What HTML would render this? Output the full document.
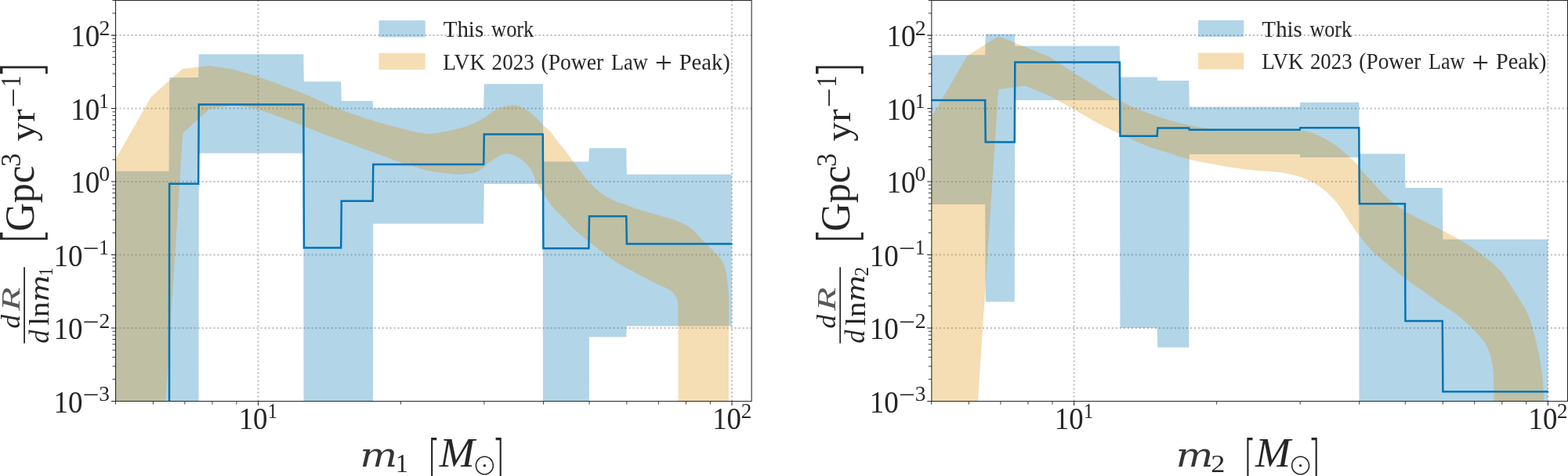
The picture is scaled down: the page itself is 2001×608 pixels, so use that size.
<!DOCTYPE html>
<html lang="en"><head><meta charset="utf-8"><title>Merger rate vs mass</title>
<style>html,body{margin:0;padding:0;background:#fff;overflow:hidden}svg{display:block}text{font-family:"Liberation Serif",serif;fill:#262626;white-space:pre}.it{font-style:italic}.el{font-family:"DejaVu Sans",sans-serif;font-weight:200}.nl{font-family:"Noto Sans CJK SC","DejaVu Sans",sans-serif;font-weight:300}.nr{font-family:"Noto Sans CJK SC","DejaVu Sans",sans-serif}.ds{font-family:"DejaVu Serif",serif}</style>
</head><body>
<svg width="2001" height="608" viewBox="0 0 2001 608">
<rect width="2001" height="608" fill="#fff"/>
<g id="panel1">
<clipPath id="clip1"><rect x="147.55" y="0.5" width="811.55" height="512"/></clipPath>
<path d="M329.5 512.5 V0.5 M934 512.5 V0.5 M147.55 419.02 H959.1 M147.55 325.54 H959.1 M147.55 232.06 H959.1 M147.55 138.58 H959.1 M147.55 45.1 H959.1" fill="none" stroke="#bcbcbc" stroke-width="2" stroke-dasharray="2 3"/>
<g clip-path="url(#clip1)">
<path fill="#0173B2" fill-opacity="0.3" d="M146 218.8 L215.57 218.8 L216.17 99 L253.15 99 L253.75 69.2 L387.3 69.2 L387.9 104.2 L435.18 104.2 L435.78 129.1 L475.67 129.1 L476.27 138.3 L617.22 138.3 L617.82 107.3 L692.77 107.3 L693.37 206.5 L751.37 206.5 L751.97 189.3 L799.25 189.3 L799.85 222.7 L933.7 222.7 L933.7 416.4 L799.85 416.4 L799.25 430.6 L751.97 430.6 L751.37 1200 L693.37 1200 L692.77 235.1 L617.82 235.1 L617.22 285.7 L476.27 285.7 L475.67 1200 L435.78 1200 L435.18 1200 L387.9 1200 L387.3 195.7 L253.75 195.7 L253.15 1200 L216.17 1200 L215.57 1200 L146 1200 Z"/>
<path fill="#DE8F05" fill-opacity="0.3" d="M145.4 207 L192.8 123.7 L232.8 87.9 L267.6 84 L298.3 88.8 L325.8 96.8 C334.1 99.77 342.43 102.64 350.7 105.7 C363.07 110.28 375.5 114.7 387.7 119.7 C401.77 125.47 415.33 132.5 429.5 138 C445.2 144.1 461.22 149.49 477.3 154.5 C491.38 158.89 505.74 162.41 520 166.2 C523.31 167.08 526.63 167.92 530 168.5 C535.93 169.52 541.95 171.35 547.9 171 C558.52 170.38 569.21 167.89 579.7 165.6 C586.45 164.13 593.19 162.23 599.6 159.7 C605.79 157.26 611.78 154.11 617.5 150.7 C622.38 147.78 626.46 143.46 631.4 140.7 C635.1 138.63 639.29 137.27 643.4 136.2 C647.59 135.11 652.08 133.92 656.3 134.2 C660.04 134.45 663.88 136.08 667.3 137.8 C671.52 139.92 675.59 142.63 679.2 145.7 C684.19 149.93 688.4 155.1 693.1 159.7 C696.67 163.2 700.71 166.27 704 170 C706.68 173.04 708.51 176.79 711 180 C713.81 183.62 717.09 186.88 719.9 190.5 C724.02 195.81 727.76 201.42 731.8 206.8 C737.06 213.82 742.04 221.11 747.8 227.7 C753.34 234.04 759.1 240.45 765.7 245.6 C771.7 250.28 778.71 253.9 785.6 257.2 C790.14 259.37 795.24 260.28 800 262 C803.84 263.38 807.55 265.15 811.4 266.5 C814.18 267.48 817.06 268.17 819.9 269 C826.43 270.91 832.98 272.75 839.5 274.7 C847.48 277.09 855.7 278.93 863.4 282 C869.73 284.53 876.17 287.48 881.6 291.5 C886.87 295.41 890.82 301.07 895.5 305.8 C900.12 310.47 904.94 314.97 909.5 319.7 C912.9 323.23 916.48 326.7 919.4 330.6 C921.44 333.33 923.28 336.39 924.4 339.6 C925.95 344.03 926.66 348.82 927.4 353.5 C928.33 359.42 928.84 365.42 929.4 371.4 C929.7 374.59 929.8 377.8 930 381 L930 560 L865.4 560 C865.37 503.67 865.71 447.31 865.3 391 C865.28 387.78 864.91 384.46 864.1 381.4 C863.71 379.93 862.6 378.66 861.7 377.4 C860.47 375.66 859.35 373.7 857.7 372.4 C855.18 370.4 852.12 368.95 849.2 367.5 C846.16 365.99 842.86 365 839.8 363.5 C832.99 360.16 826.32 356.53 819.6 353 C813.05 349.56 806.44 346.22 800 342.6 C794.41 339.46 788.75 336.37 783.5 332.7 C772.62 325.1 761.98 317.08 751.6 308.8 C744.08 302.81 736.78 296.49 729.8 289.9 C726.25 286.55 723.4 282.5 720 279 C717.44 276.37 714.46 274.14 711.9 271.5 C708.83 268.34 705.76 265.11 703.1 261.6 C699.49 256.84 696.33 251.73 693.1 246.7 C690.36 242.43 687.52 238.2 685.2 233.7 C682.22 227.9 680.5 221.36 677.2 215.8 C675.2 212.43 672.25 209.52 669.3 206.9 C666.28 204.22 662.92 201.65 659.3 199.9 C655.62 198.12 651.39 196.48 647.4 196.3 C644.09 196.15 640.46 197.41 637.4 198.9 C632.49 201.28 627.95 204.65 623.5 207.9 C619.32 210.95 615.91 215.24 611.5 217.8 C607.94 219.87 603.69 221.17 599.6 221.8 C593.76 222.7 587.64 222.76 581.7 222.4 C571.08 221.76 560.31 220.91 549.9 218.8 C539.75 216.74 529.99 212.76 520 209.9 C518.36 209.43 516.61 209.38 515 208.8 C489.77 199.74 464.67 190.26 439.5 181 C429.53 177.33 419.51 173.81 409.6 170 C402.25 167.17 395.04 163.97 387.7 161.1 C375.41 156.3 363.08 151.56 350.7 147 C342.45 143.96 334.1 141.2 325.8 138.3 L298.3 134.5 L267.6 139 L233.3 170 L208.3 560 L145 560 Z"/>
</g>
<g clip-path="url(#clip1)">
<path fill="none" stroke="#0173B2" stroke-width="2.5" stroke-linejoin="miter" stroke-miterlimit="10" d="M215.57 1200 L216.17 234.7 L253.15 234.7 L253.75 133.6 L387.3 133.6 L387.9 316.4 L435.18 316.4 L435.78 256.8 L475.67 256.8 L476.27 210 L617.22 210 L617.82 171.6 L692.77 171.6 L693.37 317.2 L751.37 317.2 L751.97 276.3 L799.25 276.3 L799.85 311.6 L934.4 311.6"/>
</g>
<path d="M329.5 512.5 v5.6 M934 512.5 v5.6 M147.55 512.5 h-5.6 M147.55 419.02 h-5.6 M147.55 325.54 h-5.6 M147.55 232.06 h-5.6 M147.55 138.58 h-5.6 M147.55 45.1 h-5.6" fill="none" stroke="#262626" stroke-width="1.05"/>
<path d="M147.53 512.5 v4.1 M195.39 512.5 v4.1 M235.86 512.5 v4.1 M270.92 512.5 v4.1 M301.84 512.5 v4.1 M511.47 512.5 v4.1 M617.92 512.5 v4.1 M693.45 512.5 v4.1 M752.03 512.5 v4.1 M799.89 512.5 v4.1 M840.36 512.5 v4.1 M875.42 512.5 v4.1 M906.34 512.5 v4.1 M147.55 484.36 h-4.1 M147.55 467.9 h-4.1 M147.55 456.22 h-4.1 M147.55 447.16 h-4.1 M147.55 439.76 h-4.1 M147.55 433.5 h-4.1 M147.55 428.08 h-4.1 M147.55 423.3 h-4.1 M147.55 390.88 h-4.1 M147.55 374.42 h-4.1 M147.55 362.74 h-4.1 M147.55 353.68 h-4.1 M147.55 346.28 h-4.1 M147.55 340.02 h-4.1 M147.55 334.6 h-4.1 M147.55 329.82 h-4.1 M147.55 297.4 h-4.1 M147.55 280.94 h-4.1 M147.55 269.26 h-4.1 M147.55 260.2 h-4.1 M147.55 252.8 h-4.1 M147.55 246.54 h-4.1 M147.55 241.12 h-4.1 M147.55 236.34 h-4.1 M147.55 203.92 h-4.1 M147.55 187.46 h-4.1 M147.55 175.78 h-4.1 M147.55 166.72 h-4.1 M147.55 159.32 h-4.1 M147.55 153.06 h-4.1 M147.55 147.64 h-4.1 M147.55 142.86 h-4.1 M147.55 110.44 h-4.1 M147.55 93.98 h-4.1 M147.55 82.3 h-4.1 M147.55 73.24 h-4.1 M147.55 65.84 h-4.1 M147.55 59.58 h-4.1 M147.55 54.16 h-4.1 M147.55 49.38 h-4.1 M147.55 16.96 h-4.1 M147.55 0.5 h-4.1" fill="none" stroke="#262626" stroke-width="0.9"/>
<path d="M147.55 0.5 H959.1 V512.5 H147.55 Z" fill="none" stroke="#262626" stroke-width="1.05" stroke-linejoin="miter"/>
<text><tspan x="68.41" y="526.59" font-size="40.59" textLength="37.03" lengthAdjust="spacingAndGlyphs">10</tspan><tspan x="105.39" y="515.24" font-size="32" textLength="20.98" lengthAdjust="spacingAndGlyphs">−</tspan><tspan x="126.35" y="511.72" font-size="27.51" textLength="13.7" lengthAdjust="spacingAndGlyphs">3</tspan></text>
<text><tspan x="68.41" y="433.11" font-size="40.59" textLength="37.03" lengthAdjust="spacingAndGlyphs">10</tspan><tspan x="105.39" y="421.76" font-size="32" textLength="20.98" lengthAdjust="spacingAndGlyphs">−</tspan><tspan x="126.5" y="418.52" font-size="27.92" textLength="13.88" lengthAdjust="spacingAndGlyphs">2</tspan></text>
<text><tspan x="68.41" y="339.63" font-size="40.59" textLength="37.03" lengthAdjust="spacingAndGlyphs">10</tspan><tspan x="105.39" y="328.28" font-size="32" textLength="20.98" lengthAdjust="spacingAndGlyphs">−</tspan><tspan x="126.34" y="325.04" font-size="28.03" textLength="12.62" lengthAdjust="spacingAndGlyphs">1</tspan></text>
<text><tspan x="90.31" y="246.15" font-size="40.59" textLength="37.03" lengthAdjust="spacingAndGlyphs">10</tspan><tspan x="126.21" y="231.29" font-size="27.41" textLength="13.88" lengthAdjust="spacingAndGlyphs">0</tspan></text>
<text><tspan x="90.31" y="152.67" font-size="40.59" textLength="37.03" lengthAdjust="spacingAndGlyphs">10</tspan><tspan x="126.34" y="138.08" font-size="28.03" textLength="12.62" lengthAdjust="spacingAndGlyphs">1</tspan></text>
<text><tspan x="90.31" y="59.19" font-size="40.59" textLength="37.03" lengthAdjust="spacingAndGlyphs">10</tspan><tspan x="126.5" y="44.6" font-size="27.92" textLength="13.88" lengthAdjust="spacingAndGlyphs">2</tspan></text>
<text><tspan x="304.68" y="548.19" font-size="40.59" textLength="36.8" lengthAdjust="spacingAndGlyphs">10</tspan><tspan x="341.87" y="534.1" font-size="27.73" textLength="12.2" lengthAdjust="spacingAndGlyphs">1</tspan></text>
<text><tspan x="909.18" y="548.19" font-size="40.59" textLength="36.8" lengthAdjust="spacingAndGlyphs">10</tspan><tspan x="945.68" y="533.9" font-size="27.92" textLength="13.5" lengthAdjust="spacingAndGlyphs">2</tspan></text>
<rect x="483.5" y="26.1" width="59.2" height="21.3" fill="#0173B2" fill-opacity="0.3"/>
<rect x="483.5" y="67.8" width="59.2" height="21.1" fill="#DE8F05" fill-opacity="0.3"/>
<text><tspan x="565.69" y="47.1" font-size="29.6" textLength="51.5" lengthAdjust="spacingAndGlyphs">This</tspan> <tspan x="627.1" y="47.1" font-size="29.6" textLength="54.21" lengthAdjust="spacingAndGlyphs">work</tspan></text>
<text><tspan x="565.28" y="88.6" font-size="29.6" textLength="53.96" lengthAdjust="spacingAndGlyphs">LVK</tspan> <tspan x="627.58" y="88.6" font-size="29.6" textLength="54.2" lengthAdjust="spacingAndGlyphs">2023</tspan> <tspan x="690.56" y="88.6" font-size="29.6" textLength="79.67" lengthAdjust="spacingAndGlyphs">(Power</tspan> <tspan x="780.01" y="88.6" font-size="29.6" textLength="46.81" lengthAdjust="spacingAndGlyphs">Law</tspan> <tspan x="835.74" y="93.13" font-size="38.28" textLength="22.07" lengthAdjust="spacingAndGlyphs">+</tspan> <tspan x="866.74" y="88.6" font-size="29.6" textLength="65.05" lengthAdjust="spacingAndGlyphs">Peak)</tspan></text>
<text><tspan x="459.35" y="595.9" font-size="43" class="it ds" textLength="48.03" lengthAdjust="spacingAndGlyphs" fill-opacity="0.93">m</tspan><tspan x="504.92" y="603.2" font-size="34.7" textLength="15.89" lengthAdjust="spacingAndGlyphs">1</tspan> <tspan x="545.36" y="608.57" font-size="66.67" class="el" textLength="16.77" lengthAdjust="spacingAndGlyphs">[</tspan><tspan x="560.88" y="595.6" font-size="53.28" class="it" textLength="45.02" lengthAdjust="spacingAndGlyphs">M</tspan><tspan x="602.57" y="605.83" font-size="31.01" class="nl" textLength="31.76" lengthAdjust="spacingAndGlyphs">⊙</tspan><tspan x="627.66" y="608.57" font-size="66.67" class="el" textLength="16.77" lengthAdjust="spacingAndGlyphs">]</tspan></text>
</g>
<g id="panel2">
<clipPath id="clip2"><rect x="1188.85" y="0.5" width="811.65" height="512"/></clipPath>
<path d="M1370.6 512.5 V0.5 M1975.4 512.5 V0.5 M1188.85 419.02 H2000.5 M1188.85 325.54 H2000.5 M1188.85 232.06 H2000.5 M1188.85 138.58 H2000.5 M1188.85 45.1 H2000.5" fill="none" stroke="#bcbcbc" stroke-width="2" stroke-dasharray="2 3"/>
<g clip-path="url(#clip2)">
<path fill="#0173B2" fill-opacity="0.3" d="M1187 70.2 L1257.13 70.2 L1257.73 43.5 L1294.71 43.5 L1295.31 58.7 L1428.85 58.7 L1429.45 98.4 L1476.72 98.4 L1477.32 103.1 L1517.2 103.1 L1517.8 136.4 L1658.74 136.4 L1659.34 130.7 L1734.29 130.7 L1734.89 196.6 L1792.88 196.6 L1793.48 239.9 L1840.76 239.9 L1841.36 305.8 L1975.2 305.8 L1975.2 1200 L1841.36 1200 L1840.76 1200 L1793.48 1200 L1792.88 1200 L1734.89 1200 L1734.29 201.1 L1659.34 201.1 L1658.74 197 L1517.8 197 L1517.2 443.7 L1477.32 443.7 L1476.72 419 L1429.45 419 L1428.85 128 L1295.31 128 L1294.71 385.6 L1257.73 385.6 L1257.13 261.1 L1187 261.1 Z"/>
<path fill="#DE8F05" fill-opacity="0.3" d="M1186.5 153.5 L1234.3 71.3 L1274.2 46.5 L1308.4 59.9 L1339.3 72.8 L1366.9 90.8 C1375.2 96.07 1383.5 101.34 1391.8 106.6 C1394.5 108.31 1397.16 110.07 1399.9 111.7 C1409.46 117.4 1418.85 123.45 1428.7 128.6 C1437.41 133.15 1446.46 137.17 1455.6 140.8 C1466.69 145.2 1477.99 149.22 1489.4 152.7 C1499.22 155.69 1509.26 158.03 1519.3 160.2 C1527.13 161.89 1535.06 163.27 1543 164.3 C1548.63 165.03 1554.32 165.33 1560 165.5 C1573.32 165.9 1586.67 165.92 1600 166 C1613.33 166.08 1626.67 165.85 1640 166 C1647.84 166.09 1655.81 165.59 1663.5 166.7 C1668.95 167.49 1674.27 169.6 1679.4 171.7 C1684.87 173.94 1690.22 176.66 1695.3 179.7 C1700.19 182.63 1704.8 186.08 1709.3 189.6 C1714.1 193.35 1718.72 197.37 1723.2 201.5 C1726.65 204.67 1730.01 207.99 1733.1 211.5 C1735.44 214.16 1737.19 217.32 1739.5 220 C1743.22 224.32 1747.31 228.33 1751.2 232.5 C1756.61 238.29 1761.65 244.47 1767.4 249.9 C1772.35 254.57 1777.87 258.67 1783.3 262.8 C1787.57 266.04 1791.87 269.31 1796.5 272 C1803.91 276.31 1811.73 279.94 1819.4 283.8 C1826.9 287.57 1834.56 291.01 1842 294.9 C1848.6 298.35 1855.08 302.04 1861.5 305.8 C1867.54 309.34 1873.63 312.85 1879.4 316.8 C1886.23 321.48 1892.94 326.41 1899.3 331.7 C1904.87 336.34 1910.43 341.17 1915.2 346.6 C1919.73 351.77 1923.4 357.73 1927.2 363.5 C1931.17 369.53 1934.69 375.86 1938.5 382 C1941.43 386.72 1944.98 391.13 1947.4 396.1 C1950.25 401.96 1952.33 408.26 1954.3 414.5 C1956.93 422.86 1959.17 431.37 1961.2 439.9 C1963.01 447.5 1964.58 455.18 1965.8 462.9 C1967.25 472.05 1968.34 481.28 1969.2 490.5 C1969.88 497.78 1970 505.1 1970.4 512.4 L1971 560 L1906.5 560 C1906.47 544.13 1906.51 528.27 1906.4 512.4 C1906.31 500.5 1906.54 488.56 1905.9 476.7 C1905.61 471.3 1904.77 465.88 1903.6 460.6 C1902.47 455.51 1901.07 450.36 1899 445.6 C1897.23 441.53 1894.84 437.61 1892.1 434.1 C1887.94 428.77 1883.18 423.82 1878.3 419.1 C1871.68 412.69 1864.83 406.39 1857.6 400.7 C1852.93 397.03 1847.54 394.33 1842.6 391 C1838.34 388.13 1834.16 385.12 1830 382.1 C1824.03 377.76 1818.21 373.2 1812.2 368.9 C1808.14 366 1803.88 363.38 1799.8 360.5 C1797.31 358.74 1794.9 356.88 1792.5 355 C1788.3 351.71 1784.15 348.35 1780 345 C1777.02 342.59 1774.06 340.15 1771.1 337.7 C1766.16 333.61 1761.07 329.68 1756.3 325.4 C1752.83 322.28 1749.46 319.01 1746.4 315.5 C1742.06 310.51 1738.08 305.19 1734.1 299.9 C1729.81 294.19 1725.6 288.41 1721.6 282.5 C1717.46 276.38 1714.11 269.7 1709.7 263.8 C1705.48 258.16 1700.79 252.75 1695.7 247.9 C1690.89 243.32 1685.5 239.22 1680 235.5 C1676.93 233.42 1673.38 232.06 1670 230.5 C1666.72 228.99 1663.4 227.52 1660 226.3 C1656.73 225.12 1653.36 224.19 1650 223.3 C1646.7 222.42 1643.38 221.47 1640 221 C1633.28 220.07 1626.47 219.71 1619.7 219.1 C1609.77 218.21 1599.81 217.6 1589.9 216.5 C1583.24 215.76 1576.61 214.7 1570 213.6 C1563.01 212.44 1556.06 211.03 1549.1 209.7 C1538.83 207.73 1528.43 206.25 1518.3 203.7 C1508.53 201.25 1499 197.79 1489.4 194.7 C1479.44 191.49 1469.34 188.59 1459.6 184.8 C1449.11 180.72 1438.89 175.9 1428.7 171.1 C1418.99 166.53 1409.43 161.63 1399.9 156.7 C1397.13 155.27 1394.5 153.57 1391.8 152 C1383.5 147.17 1375.2 142.33 1366.9 137.5 L1339.3 122.5 L1308.4 109.6 L1274.2 114 L1244.8 560 L1186.4 560 Z"/>
</g>
<g clip-path="url(#clip2)">
<path fill="none" stroke="#0173B2" stroke-width="2.5" stroke-linejoin="miter" stroke-miterlimit="10" d="M1187 127.9 L1257.13 127.9 L1257.73 181.4 L1294.71 181.4 L1295.31 79.6 L1428.85 79.6 L1429.45 173.8 L1476.72 173.8 L1477.32 163.5 L1517.2 163.5 L1517.8 165.7 L1658.74 165.7 L1659.34 163.3 L1734.29 163.3 L1734.89 260.2 L1792.88 260.2 L1793.48 409.9 L1840.76 409.9 L1841.36 500.3 L1975.9 500.3"/>
</g>
<path d="M1370.6 512.5 v5.6 M1975.4 512.5 v5.6 M1188.85 512.5 h-5.6 M1188.85 419.02 h-5.6 M1188.85 325.54 h-5.6 M1188.85 232.06 h-5.6 M1188.85 138.58 h-5.6 M1188.85 45.1 h-5.6" fill="none" stroke="#262626" stroke-width="1.05"/>
<path d="M1188.54 512.5 v4.1 M1236.43 512.5 v4.1 M1276.92 512.5 v4.1 M1311.99 512.5 v4.1 M1342.93 512.5 v4.1 M1552.66 512.5 v4.1 M1659.16 512.5 v4.1 M1734.73 512.5 v4.1 M1793.34 512.5 v4.1 M1841.23 512.5 v4.1 M1881.72 512.5 v4.1 M1916.79 512.5 v4.1 M1947.73 512.5 v4.1 M1188.85 484.36 h-4.1 M1188.85 467.9 h-4.1 M1188.85 456.22 h-4.1 M1188.85 447.16 h-4.1 M1188.85 439.76 h-4.1 M1188.85 433.5 h-4.1 M1188.85 428.08 h-4.1 M1188.85 423.3 h-4.1 M1188.85 390.88 h-4.1 M1188.85 374.42 h-4.1 M1188.85 362.74 h-4.1 M1188.85 353.68 h-4.1 M1188.85 346.28 h-4.1 M1188.85 340.02 h-4.1 M1188.85 334.6 h-4.1 M1188.85 329.82 h-4.1 M1188.85 297.4 h-4.1 M1188.85 280.94 h-4.1 M1188.85 269.26 h-4.1 M1188.85 260.2 h-4.1 M1188.85 252.8 h-4.1 M1188.85 246.54 h-4.1 M1188.85 241.12 h-4.1 M1188.85 236.34 h-4.1 M1188.85 203.92 h-4.1 M1188.85 187.46 h-4.1 M1188.85 175.78 h-4.1 M1188.85 166.72 h-4.1 M1188.85 159.32 h-4.1 M1188.85 153.06 h-4.1 M1188.85 147.64 h-4.1 M1188.85 142.86 h-4.1 M1188.85 110.44 h-4.1 M1188.85 93.98 h-4.1 M1188.85 82.3 h-4.1 M1188.85 73.24 h-4.1 M1188.85 65.84 h-4.1 M1188.85 59.58 h-4.1 M1188.85 54.16 h-4.1 M1188.85 49.38 h-4.1 M1188.85 16.96 h-4.1 M1188.85 0.5 h-4.1" fill="none" stroke="#262626" stroke-width="0.9"/>
<path d="M1188.85 0.5 H2000.5 V512.5 H1188.85 Z" fill="none" stroke="#262626" stroke-width="1.05" stroke-linejoin="miter"/>
<text><tspan x="1109.71" y="526.59" font-size="40.59" textLength="37.03" lengthAdjust="spacingAndGlyphs">10</tspan><tspan x="1146.69" y="515.24" font-size="32" textLength="20.98" lengthAdjust="spacingAndGlyphs">−</tspan><tspan x="1167.65" y="511.72" font-size="27.51" textLength="13.7" lengthAdjust="spacingAndGlyphs">3</tspan></text>
<text><tspan x="1109.71" y="433.11" font-size="40.59" textLength="37.03" lengthAdjust="spacingAndGlyphs">10</tspan><tspan x="1146.69" y="421.76" font-size="32" textLength="20.98" lengthAdjust="spacingAndGlyphs">−</tspan><tspan x="1167.8" y="418.52" font-size="27.92" textLength="13.87" lengthAdjust="spacingAndGlyphs">2</tspan></text>
<text><tspan x="1109.71" y="339.63" font-size="40.59" textLength="37.03" lengthAdjust="spacingAndGlyphs">10</tspan><tspan x="1146.69" y="328.28" font-size="32" textLength="20.98" lengthAdjust="spacingAndGlyphs">−</tspan><tspan x="1167.64" y="325.04" font-size="28.03" textLength="12.62" lengthAdjust="spacingAndGlyphs">1</tspan></text>
<text><tspan x="1131.61" y="246.15" font-size="40.59" textLength="37.03" lengthAdjust="spacingAndGlyphs">10</tspan><tspan x="1167.51" y="231.29" font-size="27.41" textLength="13.88" lengthAdjust="spacingAndGlyphs">0</tspan></text>
<text><tspan x="1131.61" y="152.67" font-size="40.59" textLength="37.03" lengthAdjust="spacingAndGlyphs">10</tspan><tspan x="1167.64" y="138.08" font-size="28.03" textLength="12.62" lengthAdjust="spacingAndGlyphs">1</tspan></text>
<text><tspan x="1131.61" y="59.19" font-size="40.59" textLength="37.03" lengthAdjust="spacingAndGlyphs">10</tspan><tspan x="1167.8" y="44.6" font-size="27.92" textLength="13.87" lengthAdjust="spacingAndGlyphs">2</tspan></text>
<text><tspan x="1345.78" y="548.19" font-size="40.59" textLength="36.8" lengthAdjust="spacingAndGlyphs">10</tspan><tspan x="1382.97" y="534.1" font-size="27.73" textLength="12.2" lengthAdjust="spacingAndGlyphs">1</tspan></text>
<text><tspan x="1950.58" y="548.19" font-size="40.59" textLength="36.8" lengthAdjust="spacingAndGlyphs">10</tspan><tspan x="1987.09" y="533.9" font-size="27.92" textLength="13.5" lengthAdjust="spacingAndGlyphs">2</tspan></text>
<rect x="1529.1" y="25.8" width="58.2" height="21.3" fill="#0173B2" fill-opacity="0.3"/>
<rect x="1529.1" y="67.5" width="58.2" height="21.1" fill="#DE8F05" fill-opacity="0.3"/>
<text><tspan x="1610.6" y="46.8" font-size="29.6" textLength="51.04" lengthAdjust="spacingAndGlyphs">This</tspan> <tspan x="1671.44" y="46.8" font-size="29.6" textLength="53.71" lengthAdjust="spacingAndGlyphs">work</tspan></text>
<text><tspan x="1610.18" y="88.3" font-size="29.6" textLength="53.47" lengthAdjust="spacingAndGlyphs">LVK</tspan> <tspan x="1671.92" y="88.3" font-size="29.6" textLength="53.71" lengthAdjust="spacingAndGlyphs">2023</tspan> <tspan x="1734.33" y="88.3" font-size="29.6" textLength="78.94" lengthAdjust="spacingAndGlyphs">(Power</tspan> <tspan x="1822.96" y="88.3" font-size="29.6" textLength="46.38" lengthAdjust="spacingAndGlyphs">Law</tspan> <tspan x="1878.19" y="92.83" font-size="38.28" textLength="21.87" lengthAdjust="spacingAndGlyphs">+</tspan> <tspan x="1908.91" y="88.3" font-size="29.6" textLength="64.46" lengthAdjust="spacingAndGlyphs">Peak)</tspan></text>
<text><tspan x="1500.45" y="595.9" font-size="43" class="it ds" textLength="48.03" lengthAdjust="spacingAndGlyphs" fill-opacity="0.93">m</tspan><tspan x="1545.37" y="603.2" font-size="31.55" textLength="18.12" lengthAdjust="spacingAndGlyphs">2</tspan> <tspan x="1586.46" y="608.57" font-size="66.67" class="el" textLength="16.77" lengthAdjust="spacingAndGlyphs">[</tspan><tspan x="1601.98" y="595.6" font-size="53.28" class="it" textLength="45.02" lengthAdjust="spacingAndGlyphs">M</tspan><tspan x="1643.67" y="605.83" font-size="31.01" class="nl" textLength="31.76" lengthAdjust="spacingAndGlyphs">⊙</tspan><tspan x="1668.76" y="608.57" font-size="66.67" class="el" textLength="16.77" lengthAdjust="spacingAndGlyphs">]</tspan></text>
</g>
<rect x="30.2" y="341.3" width="1.8" height="97.2" fill="#262626"/>
<text transform="rotate(-90)"><tspan x="-419.55" y="25.16" font-size="33.9" class="it" textLength="17.46" lengthAdjust="spacingAndGlyphs">d</tspan><tspan x="-396.95" y="25.2" font-size="34.5" class="it" textLength="30.03" lengthAdjust="spacingAndGlyphs" fill-opacity="0.77">R</tspan> <tspan x="-438.42" y="62.34" font-size="36.31" class="it" textLength="17.04" lengthAdjust="spacingAndGlyphs">d</tspan> <tspan x="-415.78" y="62.4" font-size="36.4" textLength="30.17" lengthAdjust="spacingAndGlyphs">ln</tspan> <tspan x="-385.44" y="62.3" font-size="32.49" class="it ds" textLength="34.41" lengthAdjust="spacingAndGlyphs">m</tspan><tspan x="-352.56" y="66.8" font-size="25.91" textLength="10.64" lengthAdjust="spacingAndGlyphs">1</tspan> <tspan x="-312.68" y="52.31" font-size="67.11" class="el" textLength="22.13" lengthAdjust="spacingAndGlyphs">[</tspan><tspan x="-295.41" y="42.9" font-size="51.77" textLength="83.56" lengthAdjust="spacingAndGlyphs">Gpc</tspan><tspan x="-213.02" y="26.24" font-size="36.28" textLength="17.09" lengthAdjust="spacingAndGlyphs">3</tspan> <tspan x="-180.41" y="43.92" font-size="46.86" textLength="40.91" lengthAdjust="spacingAndGlyphs">yr</tspan><tspan x="-137.74" y="28.97" font-size="36" textLength="25.23" lengthAdjust="spacingAndGlyphs">−</tspan><tspan x="-111.18" y="25.8" font-size="35.3" textLength="14.75" lengthAdjust="spacingAndGlyphs">1</tspan><tspan x="-100.95" y="52.04" font-size="66.89" class="el" textLength="23.06" lengthAdjust="spacingAndGlyphs">]</tspan></text>
<rect x="1071.3" y="341.3" width="1.8" height="97.2" fill="#262626"/>
<text transform="rotate(-90)"><tspan x="-419.55" y="1066.26" font-size="33.9" class="it" textLength="17.46" lengthAdjust="spacingAndGlyphs">d</tspan><tspan x="-396.95" y="1066.3" font-size="34.5" class="it" textLength="30.03" lengthAdjust="spacingAndGlyphs" fill-opacity="0.77">R</tspan> <tspan x="-438.42" y="1103.44" font-size="36.31" class="it" textLength="17.04" lengthAdjust="spacingAndGlyphs">d</tspan> <tspan x="-415.78" y="1103.5" font-size="36.4" textLength="30.17" lengthAdjust="spacingAndGlyphs">ln</tspan> <tspan x="-385.44" y="1103.4" font-size="32.49" class="it ds" textLength="34.41" lengthAdjust="spacingAndGlyphs">m</tspan><tspan x="-352.77" y="1107.9" font-size="25.81" textLength="11.88" lengthAdjust="spacingAndGlyphs">2</tspan> <tspan x="-312.68" y="1093.41" font-size="67.11" class="el" textLength="22.13" lengthAdjust="spacingAndGlyphs">[</tspan><tspan x="-295.41" y="1084" font-size="51.77" textLength="83.56" lengthAdjust="spacingAndGlyphs">Gpc</tspan><tspan x="-213.02" y="1067.34" font-size="36.28" textLength="17.09" lengthAdjust="spacingAndGlyphs">3</tspan> <tspan x="-180.41" y="1085.02" font-size="46.86" textLength="40.91" lengthAdjust="spacingAndGlyphs">yr</tspan><tspan x="-137.74" y="1070.07" font-size="36" textLength="25.23" lengthAdjust="spacingAndGlyphs">−</tspan><tspan x="-111.18" y="1066.9" font-size="35.3" textLength="14.75" lengthAdjust="spacingAndGlyphs">1</tspan><tspan x="-100.95" y="1093.14" font-size="66.89" class="el" textLength="23.06" lengthAdjust="spacingAndGlyphs">]</tspan></text>
</svg></body></html>
